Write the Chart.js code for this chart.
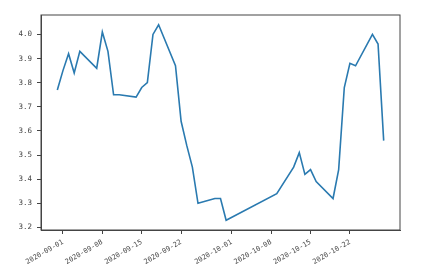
<!DOCTYPE html>
<html lang="en">
<head>
  <meta charset="UTF-8">
  <title>Price line</title>
  <script src="https://cdn.jsdelivr.net/npm/chart.js"></script>
  <style>
    body {
      margin: 0;
      background: #ffffff;
    }
    canvas {
      display: block;
    }
  </style>
</head>
<body>
  <canvas id="priceChart" width="440" height="276"></canvas>

  <script>
    const dates = [
      '2020-08-31', '2020-09-01', '2020-09-02', '2020-09-03', '2020-09-04',
      '2020-09-07', '2020-09-08', '2020-09-09', '2020-09-10', '2020-09-11',
      '2020-09-14', '2020-09-15', '2020-09-16', '2020-09-17', '2020-09-18',
      '2020-09-21', '2020-09-22', '2020-09-23', '2020-09-24', '2020-09-25',
      '2020-09-28', '2020-09-29', '2020-09-30', '2020-10-09', '2020-10-12',
      '2020-10-13', '2020-10-14', '2020-10-15', '2020-10-16', '2020-10-19',
      '2020-10-20', '2020-10-21', '2020-10-22', '2020-10-23', '2020-10-26',
      '2020-10-27', '2020-10-28'
    ];
    const prices = [
      3.77, 3.85, 3.92, 3.84, 3.93,
      3.86, 4.01, 3.93, 3.75, 3.75,
      3.74, 3.78, 3.80, 4.00, 4.04,
      3.87, 3.64, 3.54, 3.45, 3.30,
      3.32, 3.32, 3.23, 3.34, 3.45,
      3.51, 3.42, 3.44, 3.39, 3.32,
      3.44, 3.78, 3.88, 3.87, 4.00,
      3.96, 3.56
    ];
    const tickDates = [
      '2020-09-01', '2020-09-08', '2020-09-15', '2020-09-22',
      '2020-10-01', '2020-10-08', '2020-10-15', '2020-10-22'
    ];
    const yTicks = [3.2, 3.3, 3.4, 3.5, 3.6, 3.7, 3.8, 3.9, 4.0];

    // days counted from 2020-09-01 so a linear scale can stand in for dates
    const base = Date.UTC(2020, 8, 1);
    const toDay = d => (new Date(d + 'T00:00:00Z') - base) / 86400000;

    const points = dates.map((d, i) => ({ x: toDay(d), y: prices[i] }));
    const tickDays = tickDates.map(toDay);

    // matplotlib-like 5% margins
    const xs = points.map(p => p.x), ys = points.map(p => p.y);
    const xPad = (Math.max(...xs) - Math.min(...xs)) * 0.05;
    const yPad = (Math.max(...ys) - Math.min(...ys)) * 0.05;

    const axisColor = '#444';
    const mono = "'DejaVu Sans Mono', monospace";

    const frame = {
      id: 'frame',
      afterDraw(chart) {
        const { ctx, chartArea: a } = chart;
        ctx.save();
        ctx.strokeStyle = axisColor;
        ctx.lineWidth = 1;
        ctx.strokeRect(a.left, a.top, a.right - a.left, a.bottom - a.top);
        ctx.restore();
      }
    };

    new Chart(document.getElementById('priceChart'), {
      type: 'line',
      data: {
        datasets: [{
          data: points,
          borderColor: '#2a7ab0',
          borderWidth: 1.6,
          pointRadius: 0,
          tension: 0,
          fill: false
        }]
      },
      options: {
        responsive: false,
        animation: false,
        layout: { padding: { top: 15, right: 40, left: 0, bottom: 0 } },
        plugins: {
          legend: { display: false },
          tooltip: { enabled: false }
        },
        scales: {
          x: {
            type: 'linear',
            min: Math.min(...xs) - xPad,
            max: Math.max(...xs) + xPad,
            afterBuildTicks: s => { s.ticks = tickDays.map(v => ({ value: v })); },
            afterFit: s => { s.height = 46; },
            ticks: {
              autoSkip: false,
              minRotation: 30,
              maxRotation: 30,
              padding: 4,
              color: '#444',
              font: { family: mono, size: 7 },
              callback: v => tickDates[tickDays.indexOf(v)]
            },
            grid: { drawOnChartArea: false, tickLength: 4, color: axisColor },
            border: { display: true, color: axisColor }
          },
          y: {
            min: Math.min(...ys) - yPad,
            max: Math.max(...ys) + yPad,
            afterBuildTicks: s => { s.ticks = yTicks.map(v => ({ value: v })); },
            afterFit: s => { s.width = 41; },
            ticks: {
              padding: 5,
              color: '#444',
              font: { family: mono, size: 7.5 },
              callback: v => v.toFixed(1)
            },
            grid: { drawOnChartArea: false, tickLength: 4, color: axisColor },
            border: { display: true, color: axisColor }
          }
        }
      },
      plugins: [frame]
    });
  </script>
</body>
</html>
